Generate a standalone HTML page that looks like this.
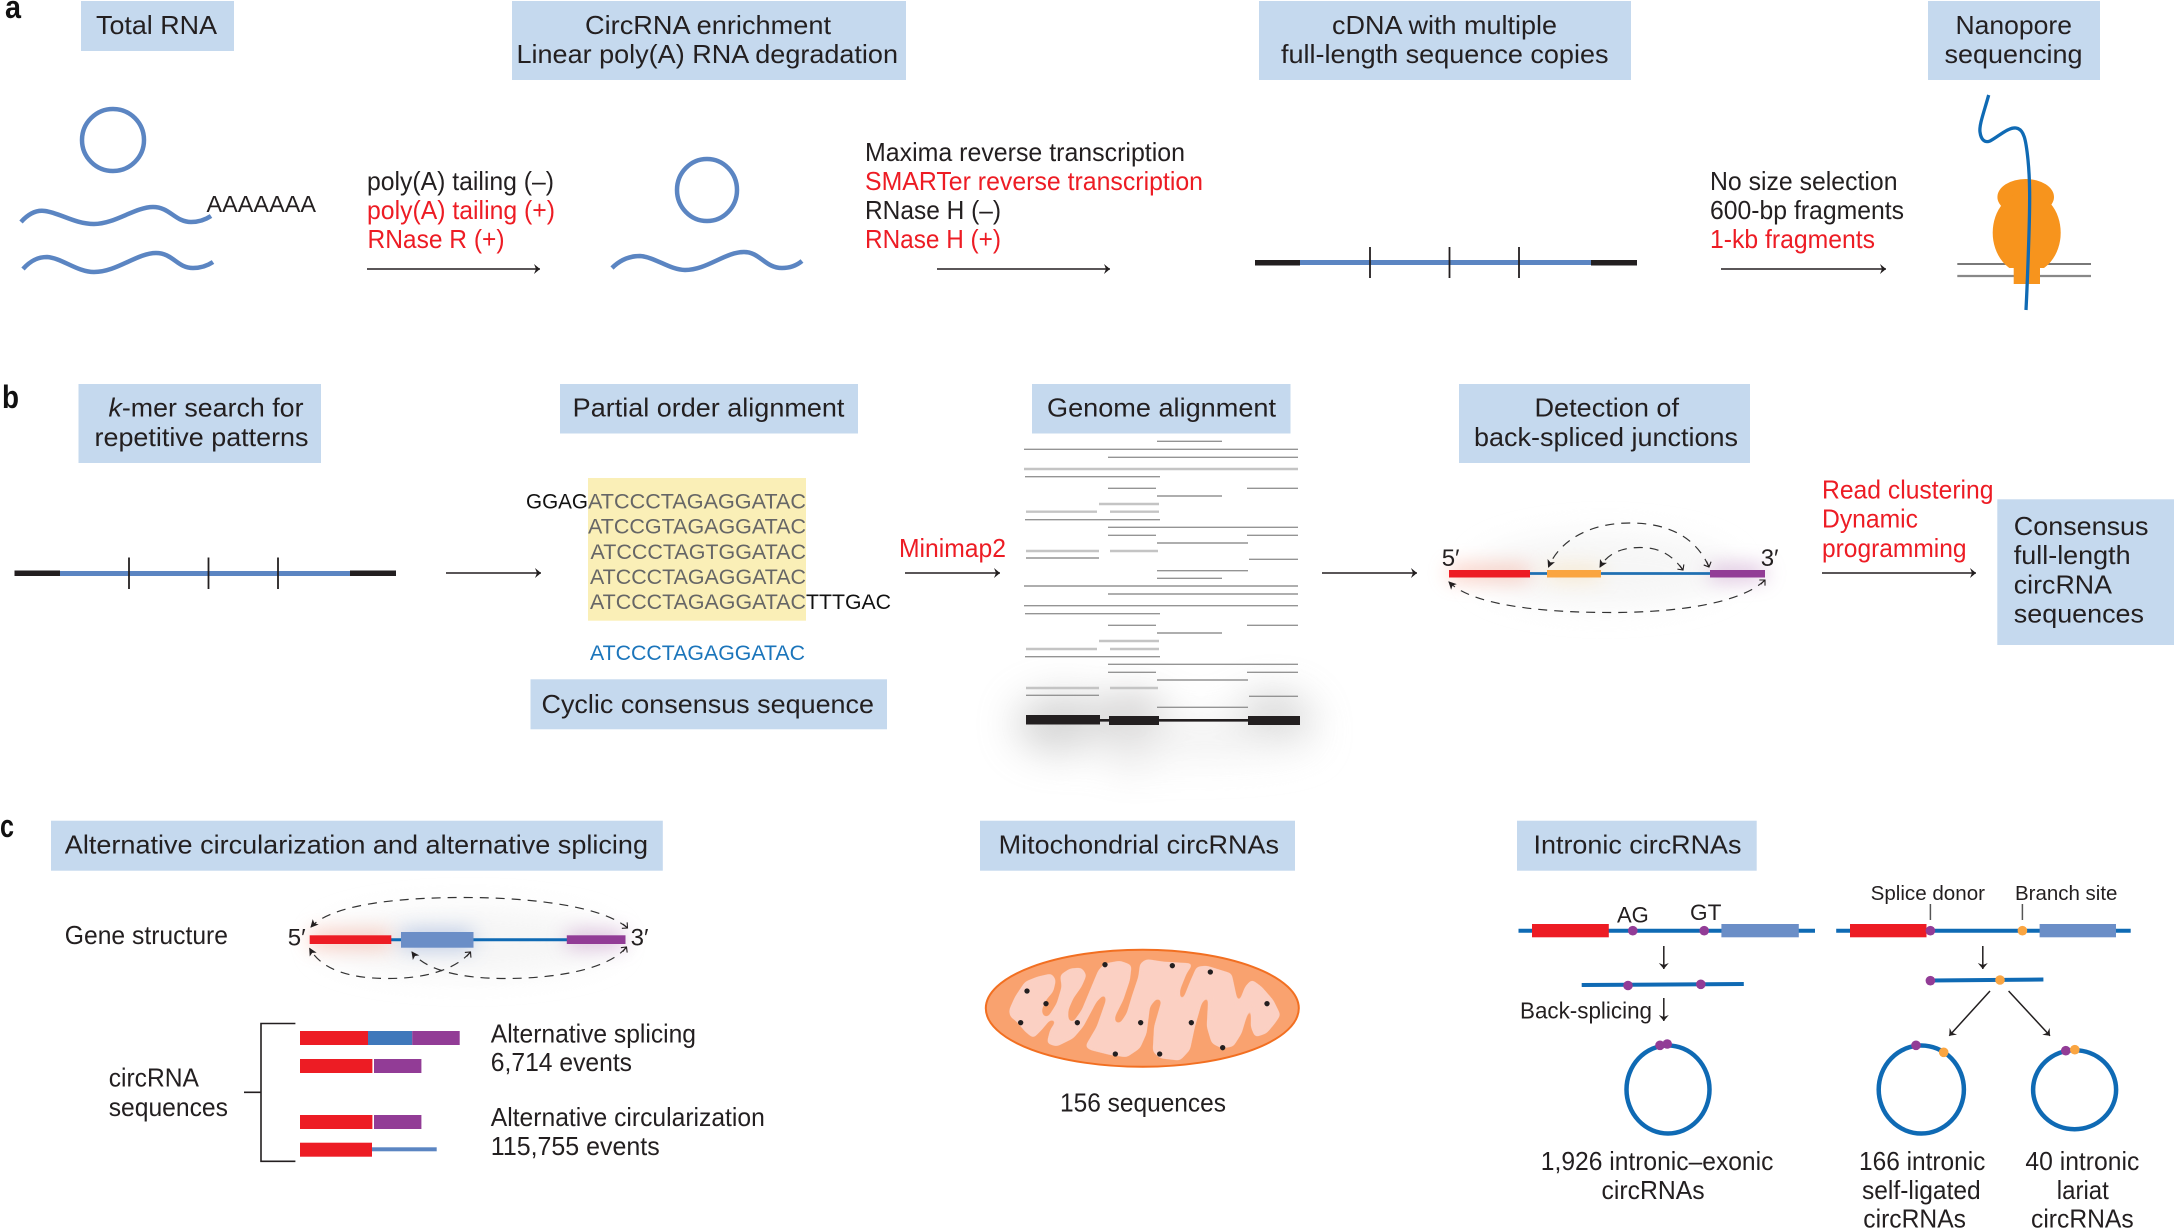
<!DOCTYPE html>
<html><head><meta charset="utf-8"><style>
html,body{margin:0;padding:0;background:#fff;width:2174px;height:1229px;overflow:hidden}
svg{display:block}
text{font-family:"Liberation Sans",sans-serif;font-size:26px;fill:#231f20}
.r{fill:#ed1c24}.lb{font-weight:bold;font-size:32px;fill:#111}
.s{font-size:21px;fill:#666}.k{font-size:21px;fill:#111}
.bx{fill:#c5d9ee}.w{fill:none;stroke:#5b85c2;stroke-width:4.5;stroke-linecap:butt}
.b{fill:none;stroke:#0f6ab4;stroke-width:4.5}
.ar{stroke:#231f20;stroke-width:1.5;fill:none;marker-end:url(#m)}
.d{fill:none;stroke:#333;stroke-width:1.2;stroke-dasharray:9 7;marker-start:url(#q);marker-end:url(#n)}
.t{stroke:#231f20;stroke-width:1.8}
.g1{stroke:#949494;stroke-width:1.4}.g2{stroke:#c4c4c4;stroke-width:2.4}
.p{fill:#923c96}.o{fill:#faa541}
</style></head><body>
<svg width="2174" height="1229" viewBox="0 0 2174 1229" xmlns="http://www.w3.org/2000/svg">
<defs>
<marker id="m" markerWidth="12" markerHeight="12" refX="9" refY="5" orient="auto" markerUnits="userSpaceOnUse"><path d="M3,0 L9,5 L3,10 L5,5 Z" fill="#231f20"/></marker>
<marker id="n" markerWidth="12" markerHeight="12" refX="8" refY="5" orient="auto" markerUnits="userSpaceOnUse"><path d="M1,1 L9,5 L1,9 L3,5 Z" fill="#231f20"/></marker>
<marker id="q" markerWidth="12" markerHeight="12" refX="3" refY="6" orient="auto" markerUnits="userSpaceOnUse"><path d="M7,2 L3,6 L7,10 M3,6 H9" fill="none" stroke="#231f20" stroke-width="1.1"/></marker>
<filter id="bl" x="-60%" y="-200%" width="220%" height="500%"><feGaussianBlur stdDeviation="14"/></filter>
<filter id="bg" x="-60%" y="-200%" width="220%" height="500%"><feGaussianBlur stdDeviation="20"/></filter>
<filter id="bs" x="-60%" y="-300%" width="220%" height="700%"><feGaussianBlur stdDeviation="10"/></filter>
<filter id="sm" x="-5%" y="-5%" width="110%" height="110%" color-interpolation-filters="sRGB"><feGaussianBlur stdDeviation="7"/><feComponentTransfer><feFuncA type="linear" slope="10" intercept="-4.5"/></feComponentTransfer></filter>
</defs>

<!-- panel labels -->
<text class="lb" x="5" y="18" textLength="16" lengthAdjust="spacingAndGlyphs">a</text>
<text class="lb" x="2" y="408" textLength="17" lengthAdjust="spacingAndGlyphs">b</text>
<text class="lb" x="0" y="837" textLength="14" lengthAdjust="spacingAndGlyphs">c</text>

<!-- panel a boxes -->
<rect class="bx" x="81" y="1" width="153" height="50"/>
<rect class="bx" x="512" y="1" width="394" height="79"/>
<rect class="bx" x="1259" y="1" width="372" height="79"/>
<rect class="bx" x="1928" y="1" width="172" height="79"/>
<text x="96" y="34" textLength="121" lengthAdjust="spacingAndGlyphs">Total RNA</text>
<text x="585" y="34" textLength="246" lengthAdjust="spacingAndGlyphs">CircRNA enrichment</text>
<text x="516.5" y="63" textLength="381.5" lengthAdjust="spacingAndGlyphs">Linear poly(A) RNA degradation</text>
<text x="1332" y="34" textLength="225" lengthAdjust="spacingAndGlyphs">cDNA with multiple</text>
<text x="1281" y="63" textLength="327.5" lengthAdjust="spacingAndGlyphs">full-length sequence copies</text>
<text x="1955.5" y="34" textLength="116.5" lengthAdjust="spacingAndGlyphs">Nanopore</text>
<text x="1944.5" y="63" textLength="138" lengthAdjust="spacingAndGlyphs">sequencing</text>

<!-- panel a RNA -->
<ellipse class="w" cx="113" cy="140" rx="31" ry="31"/>
<path class="w" d="M21,222 C30,212 38,210 45,211 C60,213 75,224 94,224 C115,224 135,207 153,207 C170,207 175,222 191,222 C198,222 205,220 211,216"/>
<path class="w" d="M23,269 C32,259 40,257 47,257 C62,258 77,272 94,272 C117,272 137,253 156,253 C173,253 177,268 193,268 C200,268 207,266 213,262"/>
<text x="206.5" y="212" style="font-size:23px" textLength="109.5" lengthAdjust="spacingAndGlyphs">AAAAAAA</text>
<ellipse class="w" cx="707" cy="190" rx="30" ry="31"/>
<path class="w" d="M612,268 C621,259 630,256 640,256 C655,257 670,270 685,270 C707,270 725,252 744,252 C760,252 765,268 782,268 C789,268 796,266 802,261"/>

<text x="367" y="190" textLength="187" lengthAdjust="spacingAndGlyphs">poly(A) tailing (–)</text>
<text class="r" x="367" y="219" textLength="188" lengthAdjust="spacingAndGlyphs">poly(A) tailing (+)</text>
<text class="r" x="367.5" y="248" textLength="137" lengthAdjust="spacingAndGlyphs">RNase R (+)</text>
<line class="ar" x1="367" y1="269" x2="540" y2="269"/>
<text x="865" y="161" textLength="320" lengthAdjust="spacingAndGlyphs">Maxima reverse transcription</text>
<text class="r" x="865" y="190" textLength="338" lengthAdjust="spacingAndGlyphs">SMARTer reverse transcription</text>
<text x="865" y="219" textLength="136" lengthAdjust="spacingAndGlyphs">RNase H (–)</text>
<text class="r" x="865" y="248" textLength="136" lengthAdjust="spacingAndGlyphs">RNase H (+)</text>
<line class="ar" x1="937" y1="269" x2="1110" y2="269"/>

<!-- cDNA -->
<rect x="1300" y="260" width="291" height="5" fill="#5b85c2"/>
<rect x="1255" y="260" width="45" height="5.5" fill="#231f20"/>
<rect x="1591" y="260" width="46" height="5.5" fill="#231f20"/>
<line class="t" x1="1370" y1="247" x2="1370" y2="278"/><line class="t" x1="1449.5" y1="247" x2="1449.5" y2="278"/><line class="t" x1="1519" y1="247" x2="1519" y2="278"/>

<text x="1710" y="190" textLength="187.5" lengthAdjust="spacingAndGlyphs">No size selection</text>
<text x="1710" y="219" textLength="194" lengthAdjust="spacingAndGlyphs">600-bp fragments</text>
<text class="r" x="1710" y="248" textLength="165" lengthAdjust="spacingAndGlyphs">1-kb fragments</text>
<line class="ar" x1="1721" y1="269" x2="1886" y2="269"/>

<!-- nanopore -->
<line x1="1957.3" y1="264" x2="2091" y2="264" stroke="#666" stroke-width="1.7"/>
<line x1="1957.3" y1="276" x2="2091" y2="276" stroke="#888" stroke-width="2.2"/>
<ellipse cx="2025.7" cy="197" rx="28.3" ry="18" fill="#f7941d"/>
<ellipse cx="2026.7" cy="232.7" rx="34" ry="41" fill="#f7941d" clip-path="url(#cp)"/>
<clipPath id="cp"><rect x="1980" y="190" width="100" height="78"/></clipPath>
<rect x="2013.7" y="262" width="26.3" height="22" fill="#f7941d"/>
<path d="M1988.7,95 C1984,112 1979,125 1980,132 C1981,140 1985,143 1990,141 C1998,137 2008,127 2016,128 C2024,129 2026,140 2028,160 C2030,180 2030,200 2029,233 C2028,265 2027,290 2026,310" fill="none" stroke="#0f6ab4" stroke-width="3.3"/>

<!-- panel b -->
<rect class="bx" x="78.5" y="384" width="242.5" height="79"/>
<text x="108.5" y="416.7" textLength="195" lengthAdjust="spacingAndGlyphs"><tspan font-style="italic">k</tspan>-mer search for</text>
<text x="94.5" y="446" textLength="214" lengthAdjust="spacingAndGlyphs">repetitive patterns</text>
<rect x="60" y="571" width="290" height="5" fill="#5b85c2"/>
<rect x="14.5" y="570.5" width="45.5" height="5.5" fill="#231f20"/>
<rect x="350" y="570.5" width="46" height="5.5" fill="#231f20"/>
<line class="t" x1="129" y1="557.5" x2="129" y2="589"/><line class="t" x1="208.5" y1="557.5" x2="208.5" y2="589"/><line class="t" x1="278" y1="557.5" x2="278" y2="589"/>
<line class="ar" x1="446" y1="573" x2="541" y2="573"/>

<rect class="bx" x="560" y="384" width="298" height="49.5"/>
<text x="572.7" y="416.7" textLength="271.7" lengthAdjust="spacingAndGlyphs">Partial order alignment</text>
<rect x="588" y="478" width="218" height="142.7" fill="#faefb7"/>
<text class="k" x="526" y="508.3" textLength="62" lengthAdjust="spacingAndGlyphs">GGAG</text>
<text class="s" x="588" y="508.3" textLength="218" lengthAdjust="spacingAndGlyphs">ATCCCTAGAGGATAC</text>
<text class="s" x="588" y="533.3" textLength="218" lengthAdjust="spacingAndGlyphs">ATCCGTAGAGGATAC</text>
<text class="s" x="590.5" y="559" textLength="215.5" lengthAdjust="spacingAndGlyphs">ATCCCTAGTGGATAC</text>
<text class="s" x="590" y="584" textLength="216" lengthAdjust="spacingAndGlyphs">ATCCCTAGAGGATAC</text>
<text class="s" x="590" y="609" textLength="216" lengthAdjust="spacingAndGlyphs">ATCCCTAGAGGATAC</text>
<text class="k" x="806" y="609" textLength="85" lengthAdjust="spacingAndGlyphs">TTTGAC</text>
<text class="s" x="590" y="660" textLength="215" lengthAdjust="spacingAndGlyphs" style="fill:#1b75bb">ATCCCTAGAGGATAC</text>
<rect class="bx" x="530.5" y="679.3" width="356.5" height="50"/>
<text x="541.5" y="713" textLength="332.5" lengthAdjust="spacingAndGlyphs">Cyclic consensus sequence</text>
<text class="r" x="899" y="557" textLength="107" lengthAdjust="spacingAndGlyphs">Minimap2</text>
<line class="ar" x1="905" y1="573" x2="1000" y2="573"/>

<!-- genome alignment -->
<rect class="bx" x="1032" y="384" width="258.5" height="49.5"/>
<text x="1047" y="416.7" textLength="229" lengthAdjust="spacingAndGlyphs">Genome alignment</text>
<g filter="url(#bg)" opacity=".8">
<ellipse cx="1064" cy="724" rx="48" ry="28" fill="#c8c8c8"/>
<ellipse cx="1133" cy="730" rx="36" ry="32" fill="#a8a4a4"/>
<ellipse cx="1273" cy="724" rx="38" ry="28" fill="#bdbdbd"/>
<ellipse cx="1195" cy="738" rx="120" ry="18" fill="#ededed"/>
</g>
<g class="g1">
<line x1="1157" y1="441.3" x2="1222" y2="441.3"/><line x1="1024" y1="449.3" x2="1298" y2="449.3"/><line x1="1108" y1="457.3" x2="1298" y2="457.3"/>
<line x1="1025" y1="476.7" x2="1160" y2="476.7"/><line x1="1108" y1="488.3" x2="1156" y2="488.3"/><line x1="1247" y1="488.3" x2="1298" y2="488.3"/><line x1="1157" y1="496" x2="1222" y2="496"/>
<line x1="1025" y1="519.7" x2="1160" y2="519.7"/><line x1="1108" y1="527.3" x2="1298" y2="527.3"/><line x1="1108" y1="535.3" x2="1156" y2="535.3"/><line x1="1247" y1="535.3" x2="1298" y2="535.3"/><line x1="1157" y1="543" x2="1248" y2="543"/>
<line x1="1026" y1="558" x2="1099" y2="558"/><line x1="1249" y1="559.3" x2="1298" y2="559.3"/><line x1="1157" y1="570.7" x2="1248" y2="570.7"/><line x1="1157" y1="578.3" x2="1222" y2="578.3"/>
<line x1="1024" y1="586" x2="1298" y2="586"/><line x1="1108" y1="594" x2="1298" y2="594"/><line x1="1024" y1="605.7" x2="1298" y2="605.7"/><line x1="1025" y1="613.7" x2="1160" y2="613.7"/>
<line x1="1108" y1="625.3" x2="1156" y2="625.3"/><line x1="1247" y1="625.3" x2="1298" y2="625.3"/><line x1="1157" y1="633" x2="1222" y2="633"/><line x1="1025" y1="656.7" x2="1160" y2="656.7"/>
<line x1="1108" y1="664.3" x2="1298" y2="664.3"/><line x1="1108" y1="672.3" x2="1156" y2="672.3"/><line x1="1247" y1="672.3" x2="1298" y2="672.3"/><line x1="1157" y1="680" x2="1248" y2="680"/>
<line x1="1026" y1="695.3" x2="1099" y2="695.3"/><line x1="1249" y1="696.3" x2="1298" y2="696.3"/><line x1="1157" y1="707.3" x2="1248" y2="707.3"/>
</g>
<g class="g2">
<line x1="1024" y1="469" x2="1298" y2="469"/><line x1="1099" y1="504" x2="1159" y2="504"/><line x1="1026" y1="511.7" x2="1097" y2="511.7"/><line x1="1110" y1="511.7" x2="1159" y2="511.7"/>
<line x1="1026" y1="551" x2="1099" y2="551"/><line x1="1110" y1="551" x2="1158" y2="551"/><line x1="1099" y1="641" x2="1159" y2="641"/><line x1="1026" y1="649" x2="1097" y2="649"/><line x1="1110" y1="649" x2="1159" y2="649"/>
<line x1="1026" y1="688" x2="1099" y2="688"/><line x1="1110" y1="688" x2="1158" y2="688"/>
</g>
<line x1="1100" y1="720.3" x2="1250" y2="720.3" stroke="#231f20" stroke-width="2.6"/>
<rect x="1026" y="715" width="74" height="9.5" fill="#231f20"/><rect x="1109" y="716" width="50" height="9" fill="#231f20"/><rect x="1248" y="716" width="52" height="9" fill="#231f20"/>

<line class="ar" x1="1322" y1="573" x2="1417" y2="573"/>

<!-- detection -->
<rect class="bx" x="1459" y="384" width="291" height="79"/>
<text x="1534.5" y="416.7" textLength="144.5" lengthAdjust="spacingAndGlyphs">Detection of</text>
<text x="1474" y="446" textLength="264" lengthAdjust="spacingAndGlyphs">back-spliced junctions</text>
<ellipse cx="1605" cy="570" rx="130" ry="38" fill="#eee" opacity=".5" filter="url(#bl)"/>
<rect x="1449" y="566" width="81" height="14" fill="#f7a08a" opacity=".6" filter="url(#bs)"/>
<rect x="1547" y="566" width="54" height="14" fill="#fad9a0" opacity=".5" filter="url(#bs)"/>
<rect x="1710" y="566" width="55" height="14" fill="#c79ac9" opacity=".7" filter="url(#bs)"/>
<line x1="1530" y1="573.5" x2="1710" y2="573.5" stroke="#1f6fb2" stroke-width="2.8"/>
<rect x="1449" y="570" width="81" height="7.5" fill="#ed1c24"/><rect x="1547" y="570" width="54" height="7.5" fill="#faa541"/><rect x="1710" y="570" width="55" height="7.5" fill="#923c96"/>
<text x="1441.7" y="566" style="font-size:24px">5′</text><text x="1760.7" y="566" style="font-size:24px">3′</text>
<path class="d" d="M1709,567 C1695,535 1665,523 1630,523 C1590,523 1560,540 1548.5,567"/>
<path class="d" d="M1683,570 C1672,555 1660,547.5 1640,547.5 C1622,547.5 1608,553 1600,567"/>
<path class="d" d="M1765,580 C1745,600 1690,612.5 1611,612.5 C1530,612.5 1470,603 1449,582"/>

<text class="r" x="1822" y="498.3" textLength="171.5" lengthAdjust="spacingAndGlyphs">Read clustering</text>
<text class="r" x="1822" y="527.7" textLength="96" lengthAdjust="spacingAndGlyphs">Dynamic</text>
<text class="r" x="1822" y="557" textLength="144.5" lengthAdjust="spacingAndGlyphs">programming</text>
<line class="ar" x1="1822" y1="573" x2="1976" y2="573"/>
<rect class="bx" x="1997.3" y="499.3" width="176.7" height="145.7"/>
<text x="2013.8" y="535" textLength="134.7" lengthAdjust="spacingAndGlyphs">Consensus</text>
<text x="2013.8" y="564" textLength="116.8" lengthAdjust="spacingAndGlyphs">full-length</text>
<text x="2013.8" y="593.7" textLength="98.2" lengthAdjust="spacingAndGlyphs">circRNA</text>
<text x="2013.8" y="622.7" textLength="130.2" lengthAdjust="spacingAndGlyphs">sequences</text>

<!-- panel c left -->
<rect class="bx" x="51" y="820.7" width="611.8" height="50"/>
<text x="64.8" y="853.3" textLength="583.2" lengthAdjust="spacingAndGlyphs">Alternative circularization and alternative splicing</text>
<text x="64.8" y="944" textLength="163.2" lengthAdjust="spacingAndGlyphs">Gene structure</text>
<ellipse cx="468" cy="942" rx="150" ry="34" fill="#eee" opacity=".55" filter="url(#bl)"/>
<rect x="310" y="932" width="81" height="15" fill="#f7a08a" opacity=".6" filter="url(#bs)"/>
<rect x="401" y="930" width="72" height="19" fill="#a9bce0" opacity=".8" filter="url(#bs)"/>
<rect x="567" y="932" width="58" height="15" fill="#c79ac9" opacity=".7" filter="url(#bs)"/>
<line x1="391" y1="939.7" x2="567" y2="939.7" stroke="#0f6ab4" stroke-width="3"/>
<rect x="309.7" y="935.3" width="81.6" height="8.7" fill="#ed1c24"/><rect x="401" y="932" width="72.5" height="15.7" fill="#6b8ec7"/><rect x="566.8" y="935.3" width="58.7" height="8.7" fill="#923c96"/>
<text x="287.8" y="945.7" style="font-size:24px">5′</text><text x="630.6" y="945.7" style="font-size:24px">3′</text>
<path class="d" d="M627.5,928 C605,908 540,897.5 464,897.5 C390,897.5 330,906 311,927"/>
<path class="d" d="M470.5,952 C455,970 425,978.5 388,978.5 C350,978.5 322,970 309.7,948.5"/>
<path class="d" d="M626.5,947 C610,968 560,978.5 505,978.5 C460,978.5 425,970 412,952"/>
<text x="108.7" y="1086.7" textLength="90.3" lengthAdjust="spacingAndGlyphs">circRNA</text>
<text x="108.7" y="1116" textLength="119.3" lengthAdjust="spacingAndGlyphs">sequences</text>
<path d="M295.4,1023.5 H261 V1161.3 H295.4 M244,1092.3 H261" fill="none" stroke="#231f20" stroke-width="1.6"/>
<rect x="300" y="1031" width="68" height="14" fill="#ed1c24"/><rect x="368" y="1031" width="44.2" height="14" fill="#3f78bb"/><rect x="412.2" y="1031" width="47.5" height="14" fill="#923c96"/>
<rect x="300" y="1059" width="72.4" height="14" fill="#ed1c24"/><rect x="374" y="1059" width="47.4" height="14" fill="#923c96"/>
<rect x="300" y="1115" width="72.4" height="14" fill="#ed1c24"/><rect x="374" y="1115" width="47.4" height="14" fill="#923c96"/>
<rect x="372" y="1147.3" width="64.7" height="4" fill="#5b85c2"/><rect x="300" y="1142.7" width="72" height="14" fill="#ed1c24"/>
<text x="490.8" y="1042.3" textLength="205.2" lengthAdjust="spacingAndGlyphs">Alternative splicing</text>
<text x="490.8" y="1071" textLength="141.2" lengthAdjust="spacingAndGlyphs">6,714 events</text>
<text x="490.8" y="1126" textLength="274" lengthAdjust="spacingAndGlyphs">Alternative circularization</text>
<text x="490.8" y="1155" textLength="168.9" lengthAdjust="spacingAndGlyphs">115,755 events</text>

<!-- mitochondria -->
<rect class="bx" x="980" y="820.7" width="315" height="50"/>
<text x="998.7" y="853.3" textLength="280.3" lengthAdjust="spacingAndGlyphs">Mitochondrial circRNAs</text>
<ellipse cx="1142.3" cy="1008.3" rx="156.5" ry="58.5" fill="#f9a26f" stroke="#f26f21" stroke-width="2"/>
<g transform="translate(950,800) scale(.33333)">
<path fill="#fbd0c3" filter="url(#sm)" d="M177,630 L195,590 225,545 262,530 305,520 318,540 310,575 288,600 275,630 280,650 295,650 320,610 335,560 330,525 360,505 395,503 410,525 395,560 370,595 355,630 355,660 368,668 395,630 420,570 445,510 465,490 510,482 545,495 540,540 520,600 495,650 495,668 510,670 530,640 545,590 565,530 570,490 590,477 640,485 730,490 710,520 690,570 690,600 700,595 720,545 740,500 770,497 845,520 860,590 865,612 885,560 905,538 935,560 970,600 992,645 975,670 950,700 915,712 902,680 905,610 890,650 875,700 850,740 815,745 785,730 770,680 775,585 755,610 735,680 720,750 690,782 630,775 608,755 612,680 635,600 620,595 600,620 590,700 570,745 530,772 480,765 420,750 405,740 440,680 468,600 465,580 440,605 400,680 370,715 320,740 290,730 300,690 320,660 300,660 275,690 250,715 225,695 200,665 180,650 Z"/>
<g fill="#231f20"><circle cx="465" cy="494" r="8"/><circle cx="667" cy="497" r="8"/><circle cx="781" cy="516" r="8"/><circle cx="231" cy="573" r="8"/><circle cx="288" cy="611" r="8"/><circle cx="212" cy="668" r="8"/><circle cx="382" cy="668" r="8"/><circle cx="572" cy="668" r="8"/><circle cx="724" cy="668" r="8"/><circle cx="951" cy="611" r="8"/><circle cx="496" cy="762" r="8"/><circle cx="629" cy="762" r="8"/><circle cx="818" cy="743" r="8"/></g>
</g>
<text x="1060" y="1111.7" textLength="166" lengthAdjust="spacingAndGlyphs">156 sequences</text>

<!-- intronic -->
<rect class="bx" x="1517" y="820.7" width="239.7" height="50"/>
<text x="1533.5" y="853.3" textLength="208" lengthAdjust="spacingAndGlyphs">Intronic circRNAs</text>
<line x1="1518.5" y1="930.7" x2="1815" y2="930.7" stroke="#0f6ab4" stroke-width="4"/>
<rect x="1532" y="924" width="76.8" height="13.3" fill="#ed1c24"/><rect x="1721.4" y="924" width="77.4" height="13.3" fill="#6b8ec7"/>
<ellipse class="p" cx="1632.8" cy="930.7" rx="4.8" ry="4.8"/><ellipse class="p" cx="1704.2" cy="930.7" rx="4.8" ry="4.8"/>
<text x="1617" y="922.7" style="font-size:22px" textLength="31.8" lengthAdjust="spacingAndGlyphs">AG</text>
<text x="1690" y="920" style="font-size:22px" textLength="31.4" lengthAdjust="spacingAndGlyphs">GT</text>
<line class="ar" x1="1663.8" y1="946" x2="1663.8" y2="969"/>
<line x1="1581.7" y1="985" x2="1743.8" y2="984" stroke="#0f6ab4" stroke-width="4"/>
<ellipse class="p" cx="1628" cy="985.5" rx="4.8" ry="4.8"/><ellipse class="p" cx="1700.8" cy="984.3" rx="4.8" ry="4.8"/>
<text x="1520" y="1018.3" style="font-size:23px" textLength="132" lengthAdjust="spacingAndGlyphs">Back-splicing</text>
<line class="ar" x1="1663.8" y1="998" x2="1663.8" y2="1021"/>
<ellipse class="b" cx="1668" cy="1089.5" rx="41.5" ry="44"/>
<circle class="p" cx="1660" cy="1045.3" r="4.8"/><circle class="p" cx="1667.2" cy="1044" r="4.8"/>
<text x="1540.8" y="1170" textLength="232.6" lengthAdjust="spacingAndGlyphs">1,926 intronic–exonic</text>
<text x="1601.5" y="1199" textLength="103.1" lengthAdjust="spacingAndGlyphs">circRNAs</text>

<line x1="1836.2" y1="930.7" x2="2130.7" y2="930.7" stroke="#0f6ab4" stroke-width="4"/>
<rect x="1850" y="924" width="76.5" height="13.3" fill="#ed1c24"/><rect x="2039.6" y="924" width="76.4" height="13.3" fill="#6b8ec7"/>
<ellipse class="p" cx="1930.4" cy="930.7" rx="4.8" ry="4.8"/><ellipse class="o" cx="2022.4" cy="930.7" rx="4.8" ry="4.8"/>
<text x="1870.6" y="900" style="font-size:20.5px" textLength="114.4" lengthAdjust="spacingAndGlyphs">Splice donor</text>
<text x="2015" y="900" style="font-size:20.5px" textLength="102.4" lengthAdjust="spacingAndGlyphs">Branch site</text>
<line x1="1930.4" y1="904" x2="1930.4" y2="920" stroke="#555" stroke-width="1.5"/><line x1="2022.4" y1="904" x2="2022.4" y2="920" stroke="#555" stroke-width="1.5"/>
<line class="ar" x1="1982.8" y1="946" x2="1982.8" y2="969"/>
<line x1="1930.4" y1="980.5" x2="2043.4" y2="979.5" stroke="#0f6ab4" stroke-width="4"/>
<circle class="p" cx="1930.4" cy="980.7" r="4.8"/><circle class="o" cx="2000" cy="980" r="4.8"/>
<line class="ar" x1="1990" y1="991" x2="1949.3" y2="1035.7"/><line class="ar" x1="2008.6" y1="991" x2="2050" y2="1035.7"/>
<ellipse class="b" cx="1921.3" cy="1089.5" rx="42.6" ry="44"/>
<circle class="p" cx="1916" cy="1045.3" r="4.8"/><circle class="o" cx="1943.7" cy="1052.3" r="4.8"/>
<ellipse class="b" cx="2074.6" cy="1089.7" rx="41.5" ry="39.5"/>
<circle class="p" cx="2065.8" cy="1050.7" r="4.8"/><circle class="o" cx="2074.8" cy="1049.7" r="4.8"/>
<text x="1859" y="1170" textLength="126.4" lengthAdjust="spacingAndGlyphs">166 intronic</text>
<text x="1862" y="1199" textLength="118.7" lengthAdjust="spacingAndGlyphs">self-ligated</text>
<text x="1863.3" y="1227.3" textLength="102.7" lengthAdjust="spacingAndGlyphs">circRNAs</text>
<text x="2025.4" y="1170" textLength="113.9" lengthAdjust="spacingAndGlyphs">40 intronic</text>
<text x="2056.8" y="1199" textLength="52" lengthAdjust="spacingAndGlyphs">lariat</text>
<text x="2031" y="1227.3" textLength="102.7" lengthAdjust="spacingAndGlyphs">circRNAs</text>
</svg>
</body></html>
